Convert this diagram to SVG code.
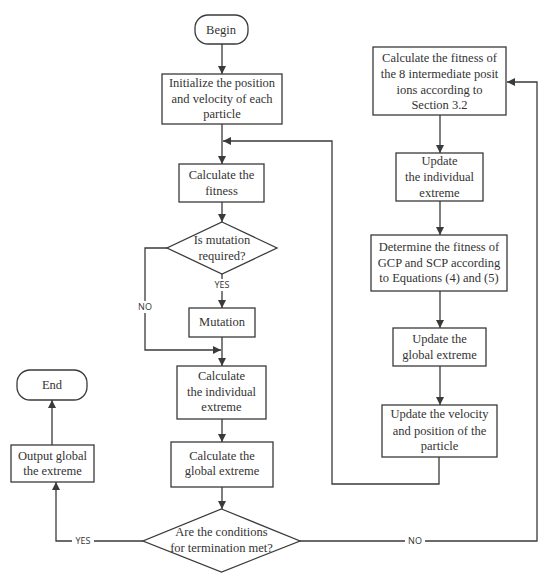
<svg xmlns="http://www.w3.org/2000/svg" width="550" height="580" viewBox="0 0 550 580">
<style>
.n{fill:#fff;stroke:#3a3a3a;stroke-width:1.3}
.t{font-family:"Liberation Serif","Times New Roman",serif;font-size:12.5px;fill:#333;text-anchor:middle}
.c{fill:none;stroke:#3a3a3a;stroke-width:1.3}
.l{font-family:"Open Sans","Liberation Sans",sans-serif;font-size:9px;fill:#333;text-anchor:middle}
.lb{fill:#fff}
</style>
<defs>
<marker id="a" markerUnits="userSpaceOnUse" markerWidth="9" markerHeight="8" refX="8" refY="4" orient="auto">
<path d="M0,0 L8,4 L0,8 Z" fill="#3a3a3a"/>
</marker>
</defs>
<rect width="550" height="580" fill="#fff"/>
<g id="connectors">
<path class="c" d="M222,44 V74" marker-end="url(#a)"/>
<path class="c" d="M222,124 V164" marker-end="url(#a)"/>
<path class="c" d="M222,202 V222" marker-end="url(#a)"/>
<path class="c" d="M222,274 V308" marker-end="url(#a)"/>
<path class="c" d="M222,337 V366" marker-end="url(#a)"/>
<path class="c" d="M167,248 H145 V350 H221" marker-end="url(#a)"/>
<path class="c" d="M222,419 V442" marker-end="url(#a)"/>
<path class="c" d="M222,487 V509" marker-end="url(#a)"/>
<path class="c" d="M143,541 H56 V482" marker-end="url(#a)"/>
<path class="c" d="M52,445 V400" marker-end="url(#a)"/>
<path class="c" d="M300,541 H537 V82 H507" marker-end="url(#a)"/>
<path class="c" d="M440,115 V153" marker-end="url(#a)"/>
<path class="c" d="M440,201 V235" marker-end="url(#a)"/>
<path class="c" d="M440,291 V328" marker-end="url(#a)"/>
<path class="c" d="M440,366 V405" marker-end="url(#a)"/>
<path class="c" d="M439,457 V484 H332 V141 H223" marker-end="url(#a)"/>
<rect class="lb" x="212" y="279" width="20" height="12"/>
<text class="l" x="222" y="288">YES</text>
<rect class="lb" x="136" y="301" width="18" height="12"/>
<text class="l" x="145" y="310">NO</text>
<rect class="lb" x="72" y="535" width="22" height="12"/>
<text class="l" x="83" y="544">YES</text>
<rect class="lb" x="405" y="535" width="20" height="12"/>
<text class="l" x="415" y="544">NO</text>
</g>
<g id="begin"><rect class="n" x="195" y="15" width="53" height="29" rx="13"/><text class="t" x="221" y="34">Begin</text></g>
<g id="init"><rect class="n" x="162" y="74" width="120" height="50"/>
<text class="t" x="222" y="87">Initialize the position</text><text class="t" x="222" y="103">and velocity of each</text><text class="t" x="222" y="118">particle</text></g>
<g id="fitness"><rect class="n" x="179" y="164" width="85" height="38"/>
<text class="t" x="221.5" y="179">Calculate the</text><text class="t" x="221.5" y="195">fitness</text></g>
<g id="mutq"><polygon class="n" points="222,222 277,248 222,274 167,248"/>
<text class="t" x="222" y="244">Is mutation</text><text class="t" x="222" y="260">required?</text></g>
<g id="mutation"><rect class="n" x="189" y="308" width="66" height="29"/><text class="t" x="222" y="326">Mutation</text></g>
<g id="calcind"><rect class="n" x="177" y="366" width="89" height="53"/>
<text class="t" x="221.5" y="380">Calculate</text><text class="t" x="221.5" y="396">the individual</text><text class="t" x="221.5" y="411">extreme</text></g>
<g id="calcglob"><rect class="n" x="171" y="442" width="102" height="45"/>
<text class="t" x="222" y="460">Calculate the</text><text class="t" x="222" y="475">global extreme</text></g>
<g id="term"><polygon class="n" points="221.5,509 300,541 221.5,572 143,541"/>
<text class="t" x="221.5" y="536">Are the conditions</text><text class="t" x="221.5" y="552">for termination met?</text></g>
<g id="output"><rect class="n" x="11" y="445" width="83" height="37"/>
<text class="t" x="52.5" y="460">Output global</text><text class="t" x="52.5" y="475">the extreme</text></g>
<g id="end"><rect class="n" x="17" y="370" width="70" height="30" rx="13"/><text class="t" x="52" y="389">End</text></g>
<g id="r1"><rect class="n" x="373" y="47" width="133" height="68"/>
<text class="t" x="439.5" y="62">Calculate the fitness of</text><text class="t" x="439.5" y="78">the 8 intermediate posit</text><text class="t" x="439.5" y="94">ions according to</text><text class="t" x="439.5" y="109">Section 3.2</text></g>
<g id="r2"><rect class="n" x="396" y="153" width="87" height="48"/>
<text class="t" x="439.5" y="165">Update</text><text class="t" x="439.5" y="181">the individual</text><text class="t" x="439.5" y="197">extreme</text></g>
<g id="r3"><rect class="n" x="371" y="235" width="136" height="56"/>
<text class="t" x="439" y="251">Determine the fitness of</text><text class="t" x="439" y="267">GCP and SCP according</text><text class="t" x="439" y="282">to Equations (4) and (5)</text></g>
<g id="r4"><rect class="n" x="393" y="328" width="93" height="38"/>
<text class="t" x="439.5" y="343">Update the</text><text class="t" x="439.5" y="359">global extreme</text></g>
<g id="r5"><rect class="n" x="382" y="405" width="115" height="52"/>
<text class="t" x="439.5" y="418">Update the velocity</text><text class="t" x="439.5" y="435">and position of the</text><text class="t" x="439.5" y="450">particle</text></g>
</svg>
